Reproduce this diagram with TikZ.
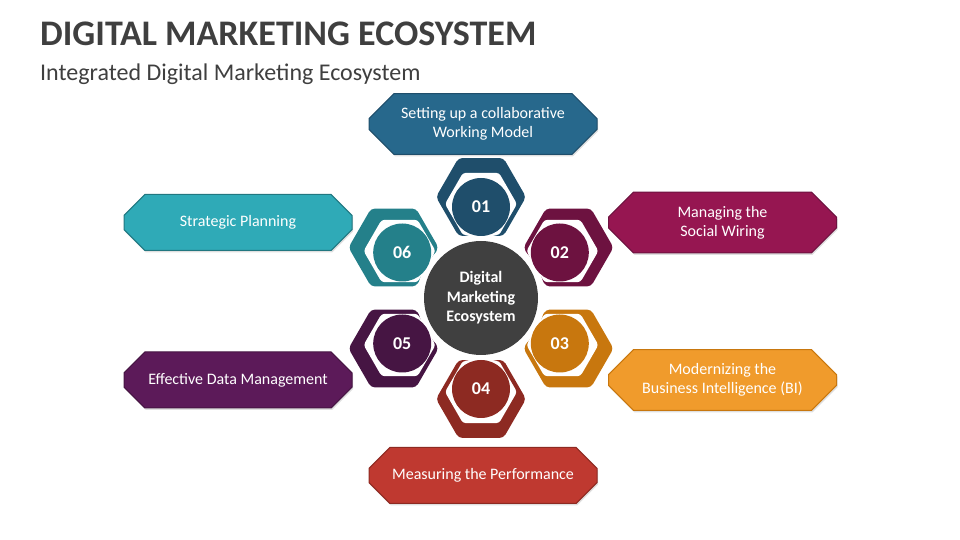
\documentclass[tikz,border=0pt]{standalone}
\usepackage{fontspec}
\setmainfont{Carlito}
\usetikzlibrary{shapes.misc,shadows}

\definecolor{boxA}{HTML}{27688C}
\definecolor{ringA}{HTML}{1F4E6B}
\definecolor{boxB}{HTML}{961651}
\definecolor{ringB}{HTML}{6D1240}
\definecolor{boxC}{HTML}{F09B2C}
\definecolor{ringC}{HTML}{C8770E}
\definecolor{boxD}{HTML}{BF3930}
\definecolor{ringD}{HTML}{8D2A22}
\definecolor{boxE}{HTML}{5C1A59}
\definecolor{ringE}{HTML}{461543}
\definecolor{boxF}{HTML}{2FAAB7}
\definecolor{ringF}{HTML}{24808A}
\definecolor{hubgray}{HTML}{404040}
\definecolor{titlegray}{HTML}{3F3F3F}

\tikzset{
  infobox/.style={chamfered rectangle, chamfered rectangle xsep=11pt,
    chamfered rectangle ysep=14pt, minimum width=228pt, minimum height=56pt,
    inner sep=0pt, text=white, align=center, line width=1pt,
    font=\fontsize{16}{19}\selectfont,
    drop shadow={opacity=0.25, shadow xshift=1pt, shadow yshift=-2pt}},
  numdisc/.style={circle, minimum size=58pt, inner sep=0pt, text=white,
    font=\fontsize{18}{20}\selectfont\bfseries},
  hubdisc/.style={circle, minimum size=114pt, inner sep=0pt, fill=hubgray,
    text=white, align=center, font=\fontsize{16}{19.5}\selectfont\bfseries}
}

\begin{document}
\begin{tikzpicture}[x=1pt, y=1pt]
  \useasboundingbox (0,0) rectangle (960,540);

  % title
  \node[anchor=base west, inner sep=0pt, text=titlegray,
    font=\fontsize{36}{38}\selectfont\bfseries] (title) at (40,494)
    {DIGITAL MARKETING ECOSYSTEM};
  \node[anchor=base west, inner sep=0pt, text=titlegray,
    font=\fontsize{24}{26}\selectfont] (subtitle) at (40,459)
    {Integrated Digital Marketing Ecosystem};

  % text boxes
  \node[infobox, fill=boxA, draw=ringA] (box1) at (483,416)
    {Setting up a collaborative\\Working Model};
  \node[infobox, fill=boxB, draw=ringB] (box2) at (722.5,317.5)
    {Managing the\\Social Wiring};
  \node[infobox, fill=boxC, draw=ringC] (box3) at (722.5,160)
    {Modernizing the\\Business Intelligence (BI)};
  \node[infobox, fill=boxD, draw=ringD] (box4) at (483,64.5)
    {Measuring the Performance};
  \node[infobox, fill=boxE, draw=ringE] (box5) at (238,160)
    {Effective Data Management};
  \node[infobox, fill=boxF, draw=boxF!70!black] (box6) at (238,317.5)
    {Strategic Planning};

  % hexagon ring
  \begin{scope}[shift={(481,242)}]
    \foreach \ang/\col in {90/ringA, 30/ringB, -30/ringC, -90/ringD, -150/ringE, 150/ringF} {
      \fill[\col, rounded corners=4pt] (\ang:101) ++(0:45) -- ++(120:45)
        -- ++(180:45) -- ++(240:45) -- ++(300:45) -- ++(0:45) -- cycle;
      \fill[white, rounded corners=3pt] (\ang:94) ++(0:36) -- ++(120:36)
        -- ++(180:36) -- ++(240:36) -- ++(300:36) -- ++(0:36) -- cycle;
    }
    \fill[white] (0,0) circle (64);
    \node[hubdisc] (hub) at (0,0) {Digital\\Marketing\\Ecosystem};
    \foreach \ang/\col/\num in {90/ringA/01, 30/ringB/02, -30/ringC/03, -90/ringD/04, -150/ringE/05, 150/ringF/06}
      \node[numdisc, fill=\col] (n\num) at (\ang:91) {\num};
  \end{scope}

\end{tikzpicture}
\end{document}
